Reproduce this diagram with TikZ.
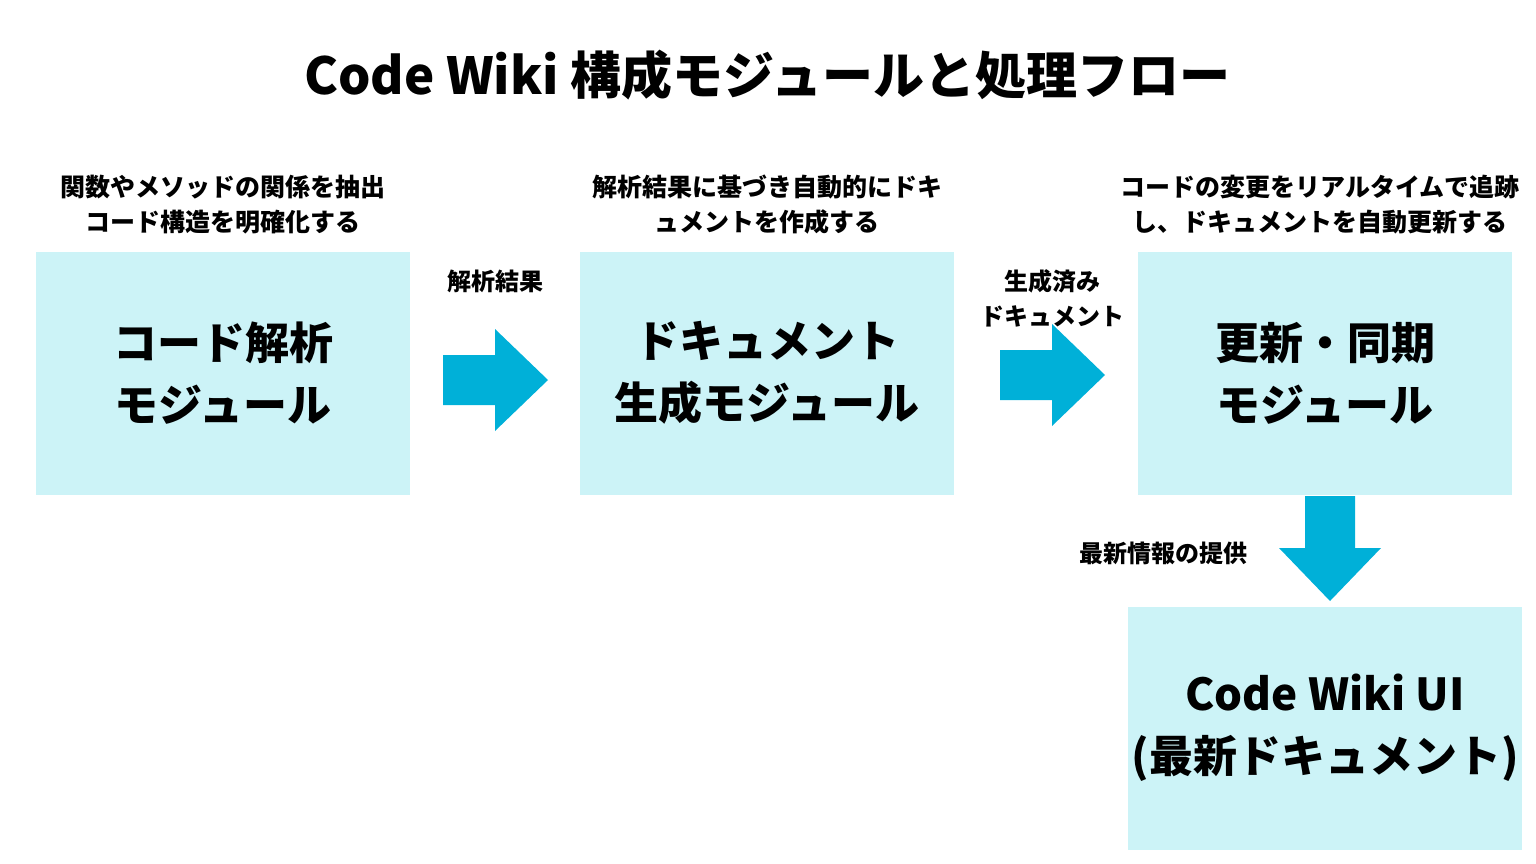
\documentclass[tikz,border=0pt]{standalone}
\usepackage{fontspec}
\setmainfont{Noto Sans CJK JP}
\usetikzlibrary{positioning}
\definecolor{boxcyan}{HTML}{CCF3F7}
\definecolor{arrowcyan}{HTML}{00B0D8}

\begin{document}
\begin{tikzpicture}[x=1pt,y=-1pt,
module/.style = {rectangle, fill=boxcyan, minimum width=374pt, minimum height=243pt,
                 align=center, font=\fontsize{44}{62}\selectfont\bfseries},
flow/.style = {fill=arrowcyan},
note/.style = {align=center, font=\fontsize{25}{35}\selectfont\bfseries},
label/.style = {align=center, font=\fontsize{24}{35}\selectfont\bfseries}]
\useasboundingbox (0,0) rectangle (1536,864);

\node[font=\fontsize{51}{56}\selectfont\bfseries] (title) at (767,75) {Code Wiki 構成モジュールと処理フロー};

\node[module] (parse) at (223,373) {コード解析\\モジュール};
\node[module] (gen) at (767,373) {ドキュメント\\生成モジュール};
\node[module] (sync) at (1325,373) {更新・同期\\モジュール};
\node[module] (ui) at (1325,728) {Code Wiki UI\\(最新ドキュメント)};

\node[note] (parsenote) at (223,205) {関数やメソッドの関係を抽出\\コード構造を明確化する};
\node[note] (gennote) at (767,205) {解析結果に基づき自動的にドキ\\ュメントを作成する};
\node[note] (syncnote) at (1320,205) {コードの変更をリアルタイムで追跡\\し、ドキュメントを自動更新する};

% flow arrows
\coordinate (a1) at (495,380);
\coordinate (a2) at (1052,375);
\coordinate (a3) at (1330,548);
\fill[flow] (a1) ++(-52,-25) -- ++(52,0) -- ++(0,-26) -- ++(53,51) -- ++(-53,51) -- ++(0,-26) -- ++(-52,0) -- cycle;
\fill[flow] (a2) ++(-52,-25) -- ++(52,0) -- ++(0,-26) -- ++(53,51) -- ++(-53,51) -- ++(0,-26) -- ++(-52,0) -- cycle;
\fill[flow] (a3) ++(-25,-52) -- ++(0,52) -- ++(-26,0) -- ++(51,53) -- ++(51,-53) -- ++(-26,0) -- ++(0,-52) -- cycle;

\node[label] (l1) at (495,281) {解析結果};
\node[label] (l2) at (1052,298) {生成済み\\ドキュメント};
\node[label] (l3) at (1163,553) {最新情報の提供};
\end{tikzpicture}
\end{document}
